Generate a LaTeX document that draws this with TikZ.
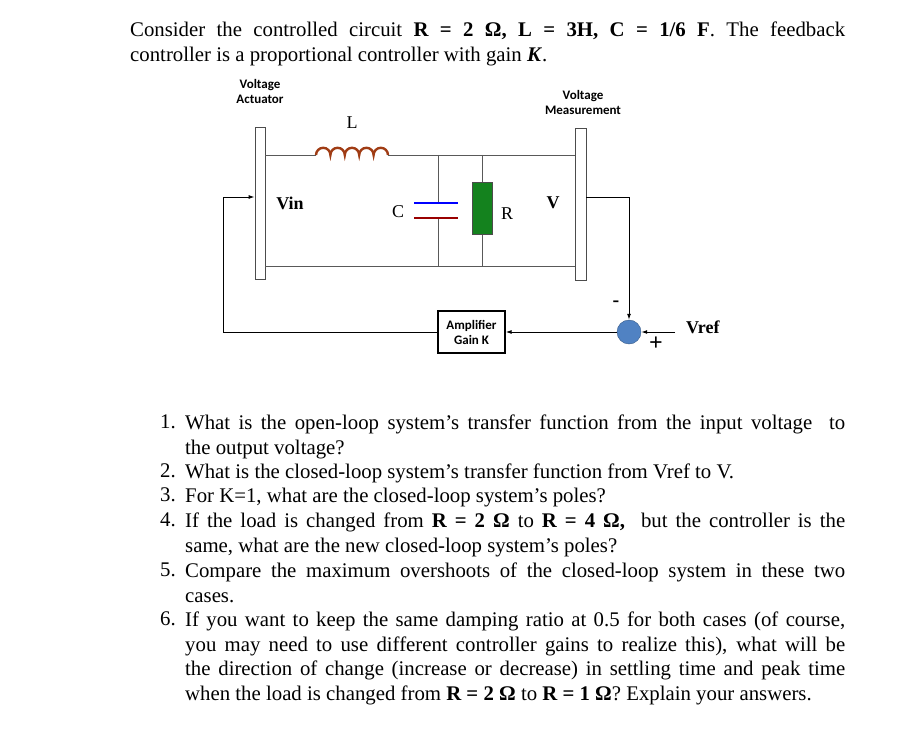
\documentclass[tikz,border=0pt]{standalone}
\usepackage{fontspec}
\setmainfont{Liberation Serif}
\newfontfamily\lab{Carlito}
\usetikzlibrary{arrows.meta}
\definecolor{indu}{RGB}{160,60,20}
\definecolor{sumc}{RGB}{80,130,195}
\definecolor{resc}{RGB}{20,130,30}
\begin{document}
\begin{tikzpicture}[x=1pt,y=-1pt,
  wire/.style={draw=gray!70!black,line width=0.8pt},
  sig/.style={draw=black,line width=1pt,-{Latex[length=6pt,width=4pt]}},
  bar/.style={draw=gray!60!black,fill=white,line width=0.8pt},
  lbl/.style={font=\lab\bfseries\fontsize{13}{15}\selectfont,align=center,inner sep=0pt},
  ser/.style={font=\fontsize{18}{19}\selectfont,inner sep=0pt},
  para/.style={font=\fontsize{20.8}{24.5}\selectfont,inner sep=0pt,align=justify,anchor=north west}]
\path[use as bounding box] (0,0) rectangle (917,730);
\node[para,text width=715] (intro) at (130,22) {Consider the controlled circuit \textbf{R = 2 Ω, L = 3H, C = 1/6 F}. The feedback\linebreak controller is a proportional controller with gain \textbf{\textit{K}}.};
% circuit
\node[bar,minimum width=10,minimum height=152,inner sep=0] (lb) at (260,203) {};
\node[bar,minimum width=11,minimum height=152,inner sep=0] (rb) at (580.5,204) {};
\coordinate (t1) at (265,155); \coordinate (t2) at (575,155);
\coordinate (b1) at (265,266); \coordinate (b2) at (575,266);
\draw[wire] (t1) -- (316,155);
\draw[wire] (388,155) -- (t2);
\draw[wire] (b1) -- (b2);
\draw[indu,line width=2.4pt] (316,155) \foreach \i in {0,...,4}{ arc[start angle=180,end angle=360,radius=7.2] } ;
\draw[wire] (438,155) -- (438,203);
\draw[wire] (438,218) -- (438,266);
\draw[blue,line width=1.5pt] (414,203) -- (458,203);
\draw[red!60!black,line width=1.5pt] (414,218) -- (458,218);
\draw[wire] (482,155) -- (482,266);
\node[draw=black!70,fill=resc,minimum width=20,minimum height=52,inner sep=0] (res) at (482,208) {};
\node[lbl] (va) at (260,91) {Voltage\\Actuator};
\node[lbl] (vm) at (583,102) {Voltage\\Measurement};
\node[ser] (L) at (352,123) {L};
\node[ser,font=\fontsize{18}{19}\selectfont\bfseries] (vin) at (290,203) {Vin};
\node[ser] (C) at (398,212) {C};
\node[ser] (R) at (507,214) {R};
\node[ser,font=\fontsize{18}{19}\selectfont\bfseries] (V) at (553,203) {V};
% feedback
\node[circle,fill=sumc,draw=sumc!70!black,minimum size=24,inner sep=0] (sum) at (629,332) {};
\node[draw,line width=1.3pt,lbl,minimum width=67,minimum height=42,inner sep=2] (amp) at (471.5,332) {Amplifier\\Gain K};
\coordinate (vr) at (675,332);
\node[ser,font=\fontsize{18}{19}\selectfont\bfseries,anchor=west] (vref) at (686,327) {Vref};
\node[font=\bfseries\fontsize{20}{20}\selectfont,inner sep=0] (minus) at (616,304) {-};
\node[font=\bfseries\fontsize{24}{24}\selectfont,inner sep=0] (plus) at (656,344) {+};
\draw[sig] (rb.east |- 0,197) -| (sum.north);
\draw[sig] (vr) -- (sum.east);
\draw[sig] (sum.west) -- (amp.east);
\draw[sig] (amp.west) -- (223,332) |- (lb.west |- 0,197);
% questions
\foreach \n/\y in {1/415,2/464,3/488,4/513,5/563,6/612}{\node[para,anchor=north west] (n\n) at (160,\y) {\n.};}
\node[para,text width=660] (q1) at (185,415) {What is the open-loop system’s transfer function from the input voltage\ \ to\linebreak the output voltage?};
\node[para,text width=660] (q2) at (185,464) {What is the closed-loop system’s transfer function from Vref to V.};
\node[para,text width=660] (q3) at (185,488) {For K=1, what are the closed-loop system’s poles?};
\node[para,text width=660] (q4) at (185,513) {If the load is changed from \textbf{R = 2 Ω} to \textbf{R = 4 Ω,}\ \ but the controller is the\linebreak same, what are the new closed-loop system’s poles?};
\node[para,text width=660] (q5) at (185,563) {Compare the maximum overshoots of the closed-loop system in these two\linebreak cases.};
\node[para,text width=660] (q6) at (185,612) {If you want to keep the same damping ratio at 0.5 for both cases (of course,\linebreak you may need to use different controller gains to realize this), what will be\linebreak the direction of change (increase or decrease) in settling time and peak time\linebreak when the load is changed from \textbf{R = 2 Ω} to \textbf{R = 1 Ω}? Explain your answers.};
\end{tikzpicture}
\end{document}
